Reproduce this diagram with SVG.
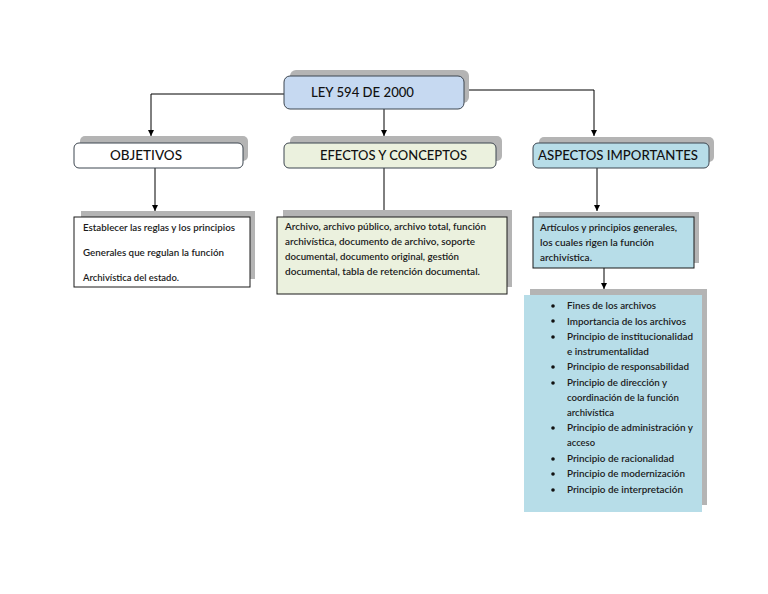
<svg xmlns="http://www.w3.org/2000/svg" width="768" height="594" viewBox="0 0 768 594">
<defs>
<style>
.sh{fill:#b4b4b4}
.hb{stroke:#3d4650;stroke-width:1}
.tb{stroke:#1a1a1a;stroke-width:1}
.ht{font-family:Lato,"Liberation Sans",sans-serif;font-size:12.5px;font-weight:500;fill:#111}
.bt{font-family:Lato,"Liberation Sans",sans-serif;font-size:9.5px;font-weight:600;fill:#1a1a1a}
.cn{fill:none;stroke:#000;stroke-width:1}
.bu{fill:#111}
</style>
<marker id="ah" markerUnits="userSpaceOnUse" markerWidth="7" markerHeight="7" refX="6" refY="3" orient="auto">
<path d="M0,0 L6,3 L0,6 z" fill="#000"/>
</marker>
</defs>
<rect width="768" height="594" fill="#fff"/>

<g id="connectors">
<path class="cn" d="M284,94 H151 V136" marker-end="url(#ah)"/>
<path class="cn" d="M384,109 V136" marker-end="url(#ah)"/>
<path class="cn" d="M464,90 H594 V136" marker-end="url(#ah)"/>
<path class="cn" d="M155,168 V211" marker-end="url(#ah)"/>
<path class="cn" d="M384,168 V216" marker-end="url(#ah)"/>
<path class="cn" d="M597,168 V211" marker-end="url(#ah)"/>
<path class="cn" d="M604,268 V289" marker-end="url(#ah)"/>
</g>

<g id="ley">
<rect class="sh" x="290" y="70" width="179" height="33" rx="6"/>
<rect class="hb" x="284" y="76" width="180" height="33" rx="6" fill="#c6d9f1"/>
<text class="ht" x="311" y="97" textLength="103" lengthAdjust="spacingAndGlyphs">LEY 594 DE 2000</text>
</g>

<g id="objetivos">
<rect class="sh" x="80" y="136" width="168" height="25" rx="5"/>
<rect class="hb" x="74" y="143" width="169" height="25" rx="5" fill="#fff"/>
<text class="ht" x="110" y="160" textLength="72" lengthAdjust="spacingAndGlyphs">OBJETIVOS</text>
</g>

<g id="efectos">
<rect class="sh" x="290" y="136" width="212" height="25" rx="5"/>
<rect class="hb" x="284" y="143" width="212" height="25" rx="5" fill="#ebf1de"/>
<text class="ht" x="320" y="160" textLength="147" lengthAdjust="spacingAndGlyphs">EFECTOS Y CONCEPTOS</text>
</g>

<g id="aspectos">
<rect class="sh" x="539" y="137" width="175" height="25" rx="5"/>
<rect class="hb" x="533" y="143" width="176" height="25" rx="5" fill="#b7dde8"/>
<text class="ht" x="538" y="160" textLength="160" lengthAdjust="spacingAndGlyphs">ASPECTOS IMPORTANTES</text>
</g>

<g id="objetivos-texto">
<rect class="sh" x="81" y="211" width="174" height="68"/>
<rect class="tb" x="74" y="217" width="176" height="70" fill="#fff"/>
<text class="bt" x="83" y="231" textLength="152" lengthAdjust="spacingAndGlyphs">Establecer las reglas y los principios</text>
<text class="bt" x="83" y="256" textLength="141" lengthAdjust="spacingAndGlyphs">Generales que regulan la función</text>
<text class="bt" x="83" y="281" textLength="96" lengthAdjust="spacingAndGlyphs">Archivística del estado.</text>
</g>

<g id="efectos-texto">
<rect class="sh" x="283" y="210" width="229" height="77"/>
<rect class="tb" x="277" y="217" width="230" height="77" fill="#ebf1de"/>
<text class="bt" x="285" y="230" textLength="201" lengthAdjust="spacingAndGlyphs">Archivo, archivo público, archivo total, función</text>
<text class="bt" x="285" y="245" textLength="190" lengthAdjust="spacingAndGlyphs">archivística, documento de archivo, soporte</text>
<text class="bt" x="285" y="260" textLength="174" lengthAdjust="spacingAndGlyphs">documental, documento original, gestión</text>
<text class="bt" x="285" y="275" textLength="195" lengthAdjust="spacingAndGlyphs">documental, tabla de retención documental.</text>
</g>

<g id="aspectos-texto">
<rect class="sh" x="539" y="212" width="160" height="51"/>
<rect class="tb" x="533" y="217" width="161" height="51" fill="#b7dde8"/>
<text class="bt" x="540" y="231" textLength="137" lengthAdjust="spacingAndGlyphs">Artículos y principios generales,</text>
<text class="bt" x="540" y="246" textLength="114" lengthAdjust="spacingAndGlyphs">los cuales rigen la función</text>
<text class="bt" x="540" y="261" textLength="52" lengthAdjust="spacingAndGlyphs">archivística.</text>
</g>

<g id="lista">
<rect class="sh" x="530" y="289" width="177" height="216"/>
<rect x="524" y="295" width="178" height="217" fill="#b7dde8"/>
<circle class="bu" cx="553" cy="306" r="1.8"/>
<circle class="bu" cx="553" cy="321" r="1.8"/>
<circle class="bu" cx="553" cy="337" r="1.8"/>
<circle class="bu" cx="553" cy="367" r="1.8"/>
<circle class="bu" cx="553" cy="383" r="1.8"/>
<circle class="bu" cx="553" cy="428" r="1.8"/>
<circle class="bu" cx="553" cy="459" r="1.8"/>
<circle class="bu" cx="553" cy="474" r="1.8"/>
<circle class="bu" cx="553" cy="490" r="1.8"/>
<text class="bt" x="567" y="309" textLength="89" lengthAdjust="spacingAndGlyphs">Fines de los archivos</text>
<text class="bt" x="567" y="325" textLength="119" lengthAdjust="spacingAndGlyphs">Importancia de los archivos</text>
<text class="bt" x="567" y="340" textLength="126" lengthAdjust="spacingAndGlyphs">Principio de institucionalidad</text>
<text class="bt" x="567" y="355" textLength="82" lengthAdjust="spacingAndGlyphs">e instrumentalidad</text>
<text class="bt" x="567" y="370" textLength="122" lengthAdjust="spacingAndGlyphs">Principio de responsabilidad</text>
<text class="bt" x="567" y="386" textLength="100" lengthAdjust="spacingAndGlyphs">Principio de dirección y</text>
<text class="bt" x="567" y="401" textLength="112" lengthAdjust="spacingAndGlyphs">coordinación de la función</text>
<text class="bt" x="567" y="416" textLength="47" lengthAdjust="spacingAndGlyphs">archivística</text>
<text class="bt" x="567" y="431" textLength="126" lengthAdjust="spacingAndGlyphs">Principio de administración y</text>
<text class="bt" x="567" y="446" textLength="28" lengthAdjust="spacingAndGlyphs">acceso</text>
<text class="bt" x="567" y="462" textLength="107" lengthAdjust="spacingAndGlyphs">Principio de racionalidad</text>
<text class="bt" x="567" y="477" textLength="118" lengthAdjust="spacingAndGlyphs">Principio de modernización</text>
<text class="bt" x="567" y="493" textLength="116" lengthAdjust="spacingAndGlyphs">Principio de interpretación</text>
</g>
</svg>
